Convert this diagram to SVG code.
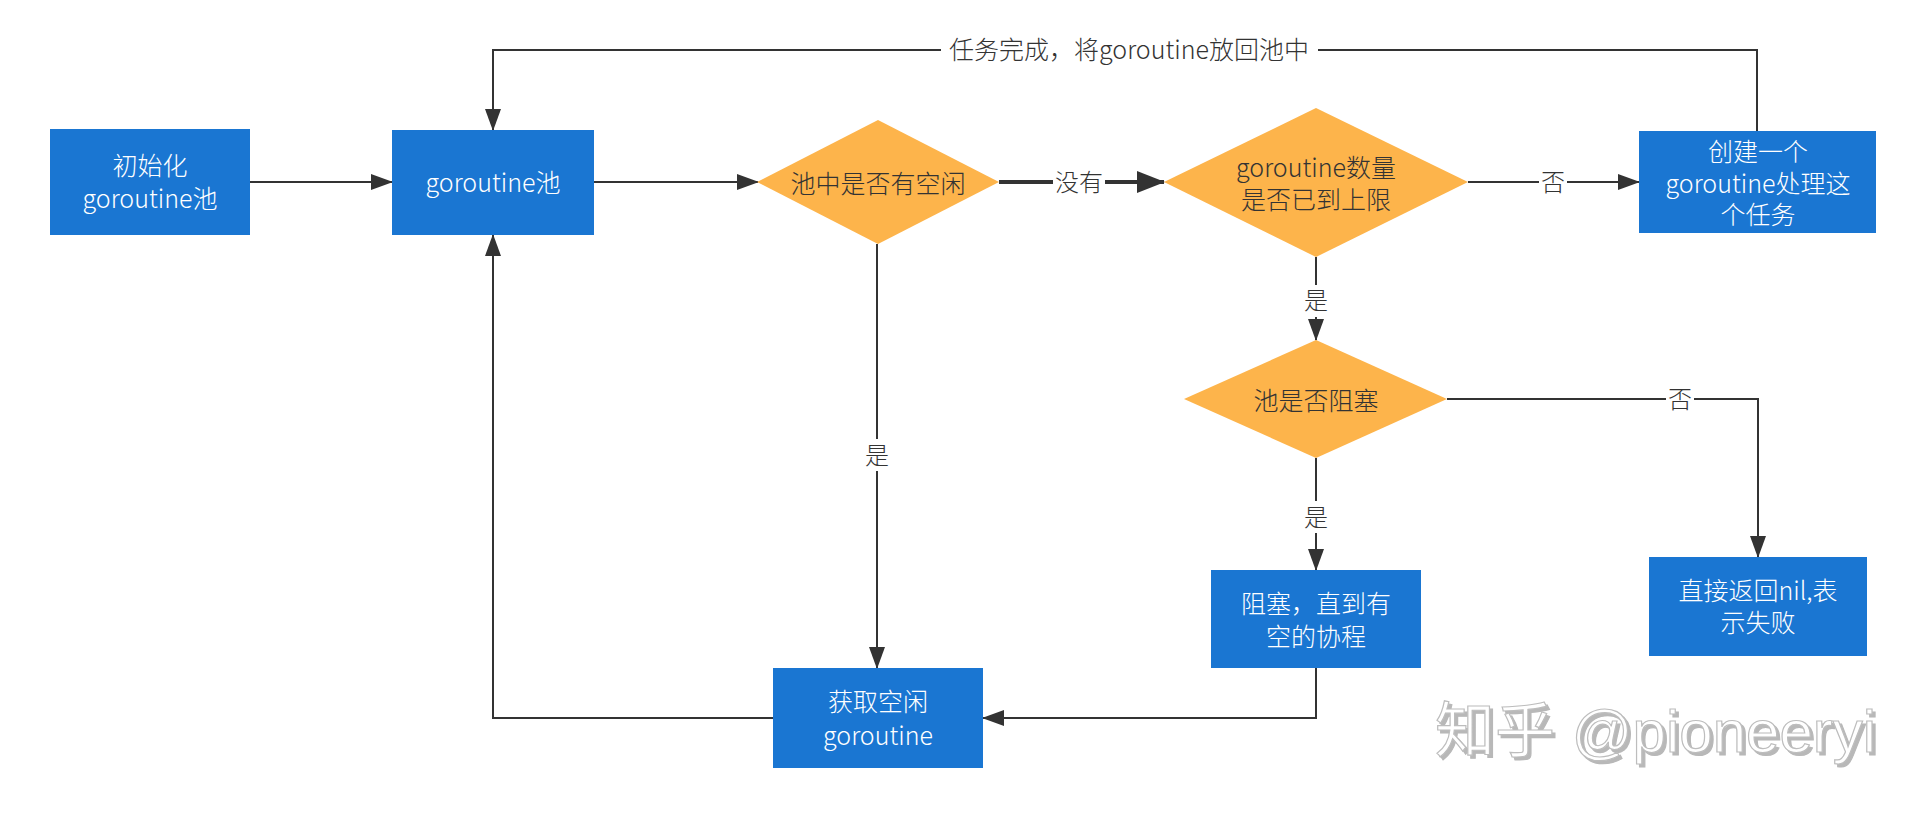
<svg xmlns="http://www.w3.org/2000/svg" width="1927" height="818" viewBox="0 0 1927 818">
<style>
.box{fill:#1a76d2;}
.dia{fill:#fdb44b;}
.bt{font-family:"Noto Sans CJK SC","Noto Sans",sans-serif;font-size:25px;font-weight:300;fill:#ffffff;text-anchor:middle;}
.dt{font-family:"Noto Sans CJK SC","Noto Sans",sans-serif;font-size:25px;font-weight:300;fill:#333333;text-anchor:middle;}
.lt{font-family:"Noto Sans CJK SC","Noto Sans",sans-serif;font-size:24px;font-weight:300;fill:#333333;text-anchor:middle;}
.ln{fill:none;stroke:#333333;stroke-width:2;}
.lbg{fill:#ffffff;}
.wm{font-family:"Liberation Sans","Noto Sans CJK SC",sans-serif;font-size:60px;fill:#ffffff;stroke:#bdbdbd;stroke-width:1.2;}
</style>
<defs>
<marker id="arr" markerUnits="userSpaceOnUse" markerWidth="22" markerHeight="16" refX="21" refY="8" orient="auto">
<path d="M0,0 L22,8 L0,16 z" fill="#333333"/>
</marker>
<marker id="arrBig" markerUnits="userSpaceOnUse" markerWidth="28" markerHeight="22" refX="27" refY="11" orient="auto">
<path d="M0,0 L28,11 L0,22 z" fill="#333333"/>
</marker>
<filter id="sh" x="-5%" y="-20%" width="110%" height="140%">
<feDropShadow dx="3" dy="3" stdDeviation="0.6" flood-color="#b8b8b8" flood-opacity="1"/>
</filter>
</defs>

<g id="connectors">
<path class="ln" d="M250,182 H392" marker-end="url(#arr)"/>
<path class="ln" d="M594,182 H758" marker-end="url(#arr)"/>
<path class="ln" d="M999,182 H1164" style="stroke-width:4" marker-end="url(#arrBig)"/>
<rect class="lbg" x="1053" y="166" width="52" height="32"/>
<text class="lt" x="1079" y="191">没有</text>
<path class="ln" d="M1468,182 H1639" marker-end="url(#arr)"/>
<rect class="lbg" x="1539" y="166" width="28" height="32"/>
<text class="lt" x="1553" y="191">否</text>
<path class="ln" d="M1757,131 V50 H493 V130" marker-end="url(#arr)"/>
<rect class="lbg" x="941" y="34" width="377" height="32"/>
<text class="dt" x="1129" y="59">任务完成，将goroutine放回池中</text>
<path class="ln" d="M1316,257 V340" marker-end="url(#arr)"/>
<rect class="lbg" x="1302" y="285" width="28" height="32"/>
<text class="lt" x="1316" y="309">是</text>
<path class="ln" d="M1316,458 V570" marker-end="url(#arr)"/>
<rect class="lbg" x="1302" y="501" width="28" height="32"/>
<text class="lt" x="1316" y="526">是</text>
<path class="ln" d="M1447,399 H1758 V557" marker-end="url(#arr)"/>
<rect class="lbg" x="1666" y="384" width="28" height="32"/>
<text class="lt" x="1680" y="408">否</text>
<path class="ln" d="M877,244 V668" marker-end="url(#arr)"/>
<rect class="lbg" x="863" y="439" width="28" height="32"/>
<text class="lt" x="877" y="464">是</text>
<path class="ln" d="M1316,668 V718 H983" marker-end="url(#arr)"/>
<path class="ln" d="M773,718 H493 V235" marker-end="url(#arr)"/>
</g>

<g id="init">
<rect class="box" x="50" y="129" width="200" height="106"/>
<text class="bt" x="150" y="175">初始化<tspan x="150" dy="33">goroutine池</tspan></text>
</g>
<g id="pool">
<rect class="box" x="392" y="130" width="202" height="105"/>
<text class="bt" x="493" y="192">goroutine池</text>
</g>
<g id="hasIdle">
<polygon class="dia" points="757,182 878,120 999,182 878,244"/>
<text class="dt" x="878" y="193">池中是否有空闲</text>
</g>
<g id="limit">
<polygon class="dia" points="1164,182 1316,108 1468,182 1316,257"/>
<text class="dt" x="1316" y="177">goroutine数量<tspan x="1316" dy="32">是否已到上限</tspan></text>
</g>
<g id="create">
<rect class="box" x="1639" y="131" width="237" height="102"/>
<text class="bt" x="1758" y="161">创建一个<tspan x="1758" dy="32">goroutine处理这</tspan><tspan x="1758" dy="31">个任务</tspan></text>
</g>
<g id="blocking">
<polygon class="dia" points="1184,399 1316,340 1447,399 1316,458"/>
<text class="dt" x="1316" y="410">池是否阻塞</text>
</g>
<g id="block">
<rect class="box" x="1211" y="570" width="210" height="98"/>
<text class="bt" x="1316" y="613">阻塞，直到有<tspan x="1316" dy="33">空的协程</tspan></text>
</g>
<g id="fail">
<rect class="box" x="1649" y="557" width="218" height="99"/>
<text class="bt" x="1758" y="600">直接返回nil,表<tspan x="1758" dy="32">示失败</tspan></text>
</g>
<g id="getIdle">
<rect class="box" x="773" y="668" width="210" height="100"/>
<text class="bt" x="878" y="711">获取空闲<tspan x="878" dy="34">goroutine</tspan></text>
</g>
<text class="wm" x="1435" y="752" filter="url(#sh)">知乎 @pioneeryi</text>
</svg>
